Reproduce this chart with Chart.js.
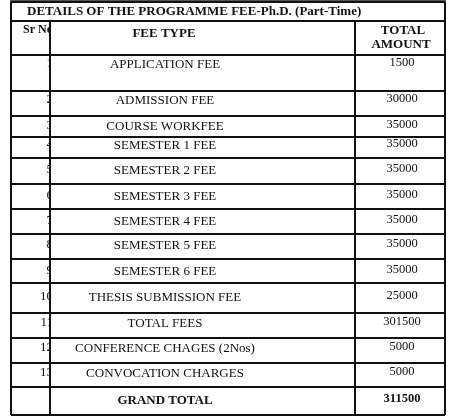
<!DOCTYPE html>
<html><head><meta charset="utf-8">
<script src="https://cdn.jsdelivr.net/npm/chart.js@4"></script>
<style>html,body{margin:0;padding:0;background:#fff}#w{width:474px;height:416px}</style>
</head><body><div id="w"><canvas id="c"></canvas></div>
<script>
const title = "DETAILS OF THE PROGRAMME FEE-Ph.D. (Part-Time)";
const headers = ["Sr No", "FEE TYPE", "TOTAL|AMOUNT"];
const srNo = ["1","2","3","4","5","6","7","8","9","10","11","12","13",""];
const feeTypes = ["APPLICATION FEE","ADMISSION FEE","COURSE WORKFEE","SEMESTER 1 FEE","SEMESTER 2 FEE","SEMESTER 3 FEE","SEMESTER 4 FEE","SEMESTER 5 FEE","SEMESTER 6 FEE","THESIS SUBMISSION FEE","TOTAL FEES","CONFERENCE CHAGES (2Nos)","CONVOCATION CHARGES","GRAND TOTAL"];
const amounts = ["1500","30000","35000","35000","35000","35000","35000","35000","35000","25000","301500","5000","5000","311500"];

// layout (pixel grid in a 474x416 coordinate space)
const L = {left:11,right:445,col1:50,col2:355,top:2,titleBottom:21,headBottom:55,
  rowLines:[91,116,137,158,184,209,234,259,283,313,338,363,387,415],
  textY:[65,101,127,146,171,197,222,246,272,298,324,349,374,401]};

const tablePlugin = {id:'table', afterDraw(chart){
  const ctx = chart.ctx, xs = chart.scales.x, ys = chart.scales.y;
  const X = v=>xs.getPixelForValue(v), Y = v=>ys.getPixelForValue(v);
  ctx.save();
  ctx.fillStyle='#555'; ctx.fillRect(X(L.left)-1,Y(0),X(L.right)-X(L.left)+2,Y(L.top)-Y(0)+1);
  ctx.strokeStyle='#111'; ctx.lineWidth=2;
  const hl=(y)=>{ctx.beginPath();ctx.moveTo(X(L.left),Y(y));ctx.lineTo(X(L.right),Y(y));ctx.stroke();};
  const vl=(x,y0,y1)=>{ctx.beginPath();ctx.moveTo(X(x),Y(y0));ctx.lineTo(X(x),Y(y1));ctx.stroke();};
  hl(L.top); hl(L.titleBottom); hl(L.headBottom); L.rowLines.forEach(hl);
  const bot = L.rowLines[L.rowLines.length-1];
  vl(L.left,L.top,bot); vl(L.right,L.top,bot);
  vl(L.col1,L.titleBottom,bot); vl(L.col2,L.titleBottom,bot);
  ctx.fillStyle='#111'; ctx.textBaseline='middle';
  ctx.font='bold 13px "Liberation Serif"'; ctx.textAlign='left';
  ctx.fillText(title,X(27),Y(12));
  ctx.save(); ctx.beginPath(); ctx.rect(X(L.left),Y(L.titleBottom),X(L.col1-1)-X(L.left),Y(bot)-Y(L.titleBottom)); ctx.clip();
  ctx.font='bold 12px "Liberation Serif"'; ctx.fillText(headers[0],X(23),Y(30));
  ctx.font='13px "Liberation Serif"'; ctx.textAlign='right';
  srNo.forEach((s,i)=>{ if(s) ctx.fillText(s,X(53),Y(L.textY[i]-1)); });
  ctx.restore();
  ctx.textAlign='center';
  ctx.font='bold 13px "Liberation Serif"';
  ctx.fillText(headers[1],X(164),Y(34));
  const h2=headers[2].split('|');
  ctx.fillText(h2[0],X(403),Y(31)); ctx.fillText(h2[1],X(401),Y(45));
  feeTypes.forEach((f,i)=>{
    const last=i===feeTypes.length-1;
    ctx.font=(last?'bold ':'')+'13px "Liberation Serif"';
    ctx.fillText(f,X(165),Y(L.textY[i]));
    ctx.font=(last?'bold ':'')+'12.5px "Liberation Serif"';
    ctx.fillText(amounts[i],X(402),Y(L.textY[i]-2));
  });
  ctx.restore();
}};

new Chart(document.getElementById('c'),{
  type:'scatter',
  data:{datasets:[{data:amounts.map((a,i)=>({x:402,y:L.textY[i]})),pointRadius:0}]},
  options:{responsive:true,maintainAspectRatio:false,animation:false,
    layout:{padding:0},
    plugins:{legend:{display:false},tooltip:{enabled:false}},
    scales:{x:{type:'linear',min:0,max:474,display:false},
            y:{type:'linear',min:0,max:416,reverse:true,display:false}}},
  plugins:[tablePlugin]
});
</script></body></html>
